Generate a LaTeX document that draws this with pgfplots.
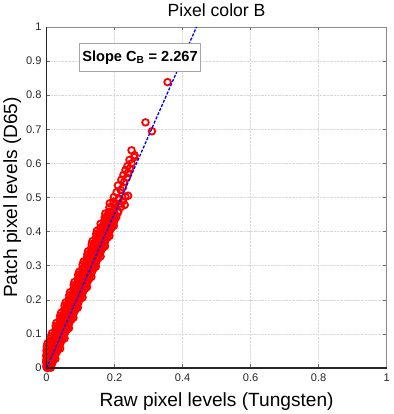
\documentclass[border=0pt]{standalone}
\usepackage{fontspec}
\setmainfont{Liberation Sans}
\usepackage{pgfplots}
\pgfplotsset{compat=1.18}
\begin{document}
\begin{tikzpicture}
\begin{axis}[
  set layers,
  scale only axis,
  width=338pt, height=339pt,
  xmin=0, xmax=1, ymin=0, ymax=1,
  xtick={0,0.2,0.4,0.6,0.8,1},
  ytick={0,0.1,0.2,0.3,0.4,0.5,0.6,0.7,0.8,0.9,1},
  xticklabels={0,0.2,0.4,0.6,0.8,1},
  yticklabels={0,0.1,0.2,0.3,0.4,0.5,0.6,0.7,0.8,0.9,1},
  tick label style={font=\fontsize{11}{12}\selectfont, text=black!85},
  xticklabel style={yshift=-2.5pt},
  yticklabel style={xshift=-1.5pt},
  /pgf/number format/assume math mode=true,
  grid=major,
  grid style={densely dotted, black!15, line width=0.5pt},
  tick align=inside,
  major tick length=3.5pt,
  tick style={black!60, line width=0.5pt},
  axis line style={black!45, line width=0.6pt},
  title={Pixel color B},
  title style={font=\fontsize{17.5}{20}\selectfont, yshift=1pt},
  xlabel={Raw pixel levels (Tungsten)},
  ylabel={Patch pixel levels (D65)},
  label style={font=\fontsize{19}{22}\selectfont},
  xlabel style={yshift=-4pt},
  ylabel style={yshift=-2pt},
  clip=false,
]
\addplot[only marks, mark=o, mark size=3.3pt, red, mark options={line width=1.8pt}] coordinates {
(0.000,0.003) (0.002,0.000) (0.006,0.001) (0.013,0.001)
(0.001,0.012) (0.000,0.020) (0.004,0.006) (0.009,0.004) (0.003,0.025) (0.001,0.035) (0.015,0.010) (0.011,0.018)
(0.002,0.008) (0.008,0.014) (0.013,0.009) (0.000,0.016)
(0.000,0.021) (0.001,0.017) (0.020,0.022) (0.004,0.028)
(0.000,0.033) (0.002,0.028) (0.015,0.031) (0.026,0.027)
(0.000,0.038) (0.014,0.044) (0.026,0.039) (0.003,0.042)
(0.000,0.051) (0.014,0.047) (0.033,0.052) (0.007,0.054)
(0.001,0.063) (0.016,0.058) (0.029,0.061) (0.040,0.057)
(0.012,0.068) (0.027,0.074) (0.039,0.069) (0.003,0.072)
(0.012,0.081) (0.027,0.077) (0.046,0.082) (0.020,0.084)
(0.014,0.093) (0.029,0.088) (0.042,0.091) (0.053,0.087)
(0.025,0.098) (0.040,0.104) (0.052,0.099) (0.016,0.102)
(0.026,0.111) (0.041,0.107) (0.060,0.112) (0.034,0.114)
(0.027,0.123) (0.042,0.118) (0.055,0.121) (0.066,0.117)
(0.038,0.128) (0.053,0.134) (0.065,0.129) (0.029,0.132)
(0.039,0.141) (0.054,0.137) (0.073,0.142) (0.047,0.144)
(0.040,0.153) (0.055,0.148) (0.068,0.151) (0.079,0.147)
(0.052,0.158) (0.067,0.164) (0.079,0.159) (0.043,0.162)
(0.052,0.171) (0.067,0.167) (0.086,0.172) (0.060,0.174)
(0.053,0.183) (0.068,0.178) (0.081,0.181) (0.092,0.177)
(0.065,0.188) (0.080,0.194) (0.092,0.189) (0.056,0.192)
(0.065,0.201) (0.080,0.197) (0.099,0.202) (0.073,0.204)
(0.067,0.213) (0.082,0.208) (0.095,0.211) (0.106,0.207)
(0.078,0.218) (0.093,0.224) (0.105,0.219) (0.069,0.222)
(0.079,0.231) (0.094,0.227) (0.113,0.232) (0.087,0.234)
(0.080,0.243) (0.095,0.238) (0.108,0.241) (0.119,0.237)
(0.091,0.248) (0.106,0.254) (0.118,0.249) (0.082,0.252)
(0.092,0.261) (0.107,0.257) (0.126,0.262) (0.100,0.264)
(0.093,0.273) (0.108,0.268) (0.121,0.271) (0.132,0.267)
(0.105,0.278) (0.120,0.284) (0.132,0.279) (0.096,0.282)
(0.105,0.291) (0.120,0.287) (0.139,0.292) (0.113,0.294)
(0.106,0.303) (0.121,0.298) (0.134,0.301) (0.145,0.297)
(0.118,0.308) (0.133,0.314) (0.145,0.309) (0.109,0.312)
(0.118,0.321) (0.133,0.317) (0.152,0.322) (0.126,0.324)
(0.120,0.333) (0.135,0.328) (0.148,0.331) (0.159,0.327)
(0.131,0.338) (0.146,0.344) (0.158,0.339) (0.122,0.342)
(0.131,0.351) (0.146,0.347) (0.165,0.352) (0.139,0.354)
(0.133,0.363) (0.148,0.358) (0.161,0.361) (0.172,0.357)
(0.144,0.368) (0.159,0.374) (0.171,0.369) (0.135,0.372)
(0.145,0.381) (0.160,0.377) (0.179,0.382) (0.153,0.384)
(0.146,0.393) (0.161,0.388) (0.174,0.391) (0.185,0.387)
(0.157,0.398) (0.172,0.404) (0.184,0.399) (0.148,0.402)
(0.158,0.411) (0.173,0.407) (0.192,0.412) (0.166,0.414)
(0.159,0.423) (0.174,0.418) (0.187,0.421) (0.198,0.417)
(0.171,0.428) (0.186,0.434) (0.198,0.429)
(0.171,0.441) (0.186,0.437) (0.205,0.442)
(0.173,0.453) (0.188,0.448) (0.201,0.451)
(0.184,0.458) (0.199,0.464) (0.211,0.459)
(0.185,0.471) (0.200,0.467) (0.219,0.472)
(0.186,0.483) (0.201,0.478) (0.214,0.481)
(0.197,0.488) (0.212,0.494) (0.224,0.489)
(0.198,0.501) (0.213,0.497) (0.232,0.502)
(0.000,0.006) (0.004,0.003) (0.011,0.006)
(0.000,0.015) (0.004,0.017) (0.016,0.014)
(0.000,0.026) (0.008,0.024) (0.020,0.026)
(0.000,0.036) (0.012,0.034) (0.024,0.036)
(0.002,0.046) (0.017,0.044) (0.029,0.046)
(0.006,0.056) (0.021,0.054) (0.033,0.056)
(0.011,0.066) (0.026,0.064) (0.038,0.066)
(0.015,0.076) (0.030,0.074) (0.042,0.076)
(0.020,0.086) (0.035,0.084) (0.047,0.086)
(0.024,0.096) (0.039,0.094) (0.051,0.096)
(0.028,0.106) (0.043,0.104) (0.055,0.106)
(0.033,0.116) (0.048,0.114) (0.060,0.116)
(0.037,0.126) (0.052,0.124) (0.064,0.126)
(0.042,0.136) (0.057,0.134) (0.069,0.136)
(0.046,0.146) (0.061,0.144) (0.073,0.146)
(0.050,0.156) (0.065,0.154) (0.077,0.156)
(0.055,0.166) (0.070,0.164) (0.082,0.166)
(0.059,0.176) (0.074,0.174) (0.086,0.176)
(0.064,0.186) (0.079,0.184) (0.091,0.186)
(0.068,0.196) (0.083,0.194) (0.095,0.196)
(0.072,0.206) (0.087,0.204) (0.099,0.206)
(0.077,0.216) (0.092,0.214) (0.104,0.216)
(0.081,0.226) (0.096,0.224) (0.108,0.226)
(0.086,0.236) (0.101,0.234) (0.113,0.236)
(0.090,0.246) (0.105,0.244) (0.117,0.246)
(0.095,0.256) (0.110,0.254) (0.122,0.256)
(0.099,0.266) (0.114,0.264) (0.126,0.266)
(0.103,0.276) (0.118,0.274) (0.130,0.276)
(0.108,0.286) (0.123,0.284) (0.135,0.286)
(0.112,0.296) (0.127,0.294) (0.139,0.296)
(0.117,0.306) (0.132,0.304) (0.144,0.306)
(0.121,0.316) (0.136,0.314) (0.148,0.316)
(0.125,0.326) (0.140,0.324) (0.152,0.326)
(0.130,0.336) (0.145,0.334) (0.157,0.336)
(0.134,0.346) (0.149,0.344) (0.161,0.346)
(0.139,0.356) (0.154,0.354) (0.166,0.356)
(0.143,0.366) (0.158,0.364) (0.170,0.366)
(0.147,0.376) (0.162,0.374) (0.174,0.376)
(0.152,0.386) (0.167,0.384) (0.179,0.386)
(0.156,0.396) (0.171,0.394) (0.183,0.396)
(0.161,0.406) (0.176,0.404) (0.188,0.406)
(0.165,0.416) (0.180,0.414) (0.192,0.416)
(0.170,0.426) (0.185,0.424) (0.197,0.426)
(0.174,0.436) (0.189,0.434) (0.201,0.436)
(0.178,0.446) (0.193,0.444) (0.205,0.446)
(0.183,0.456) (0.198,0.454) (0.210,0.456)
(0.206,0.515) (0.218,0.522) (0.225,0.530) (0.210,0.535) (0.228,0.545)
(0.220,0.552) (0.236,0.558) (0.226,0.566) (0.240,0.572) (0.232,0.580)
(0.245,0.585) (0.238,0.592) (0.250,0.600) (0.244,0.610) (0.258,0.618)
(0.259,0.624) (0.250,0.638) (0.176,0.440) (0.230,0.478) (0.240,0.505)
(0.291,0.720) (0.310,0.694) (0.356,0.838)
};
\addplot[blue, line width=1.3pt, dash pattern=on 3pt off 1.5pt, on layer=axis foreground] coordinates {(0,0) (0.4411,1)};
\begin{pgfonlayer}{axis foreground}
\draw[black!85, line width=1.6pt] (rel axis cs:0,1) -- (rel axis cs:0,0) -- (rel axis cs:1,0);
\node[draw=black!35, fill=white, line width=0.6pt, inner xsep=3pt, inner ysep=7pt,
      font=\fontsize{14.5}{16}\selectfont\bfseries] at (axis cs:0.275,0.91)
      {Slope C\textsubscript{B} = 2.267};
\end{pgfonlayer}
\end{axis}
\end{tikzpicture}
\end{document}
